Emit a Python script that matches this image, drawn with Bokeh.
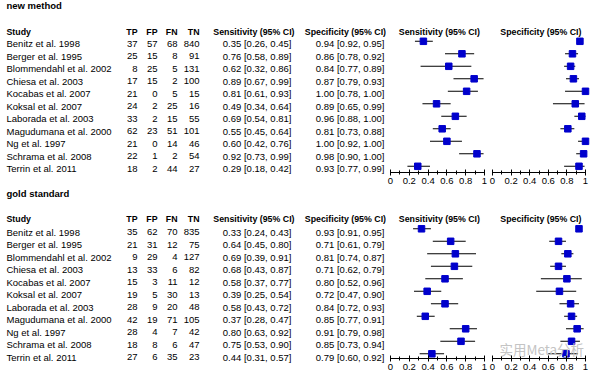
from bokeh.plotting import figure
from bokeh.models import Range1d, LinearAxis, FixedTicker
from bokeh.layouts import row, column
from bokeh.embed import file_html
from bokeh.resources import INLINE
from bokeh.core.properties import value

# ---------------- data ----------------
studies = ["Benitz et al. 1998", "Berger et al. 1995", "Blommendahl et al. 2002",
           "Chiesa et al. 2003", "Kocabas et al. 2007", "Koksal et al. 2007",
           "Laborada et al. 2003", "Magudumana et al. 2000", "Ng et al. 1997",
           "Schrama et al. 2008", "Terrin et al. 2011"]

# new method
nm_tp = [37, 25, 8, 17, 21, 24, 33, 62, 21, 22, 18]
nm_fp = [57, 15, 25, 15, 0, 2, 2, 23, 0, 1, 2]
nm_fn = [68, 8, 5, 2, 5, 25, 15, 51, 14, 2, 44]
nm_tn = [840, 91, 131, 100, 15, 16, 55, 101, 46, 54, 27]
nm_sens = [0.35, 0.76, 0.62, 0.89, 0.81, 0.49, 0.69, 0.55, 0.60, 0.92, 0.29]
nm_sens_lo = [0.26, 0.58, 0.32, 0.67, 0.61, 0.34, 0.54, 0.45, 0.42, 0.73, 0.18]
nm_sens_hi = [0.45, 0.89, 0.86, 0.99, 0.93, 0.64, 0.81, 0.64, 0.76, 0.99, 0.42]
nm_spec = [0.94, 0.86, 0.84, 0.87, 1.00, 0.89, 0.96, 0.81, 1.00, 0.98, 0.93]
nm_spec_lo = [0.92, 0.78, 0.77, 0.79, 0.78, 0.65, 0.88, 0.73, 0.92, 0.90, 0.77]
nm_spec_hi = [0.95, 0.92, 0.89, 0.93, 1.00, 0.99, 1.00, 0.88, 1.00, 1.00, 0.99]

# gold standard
gs_tp = [35, 21, 9, 13, 15, 19, 28, 42, 28, 18, 27]
gs_fp = [62, 31, 29, 33, 3, 5, 9, 19, 4, 8, 6]
gs_fn = [70, 12, 4, 6, 11, 30, 20, 71, 7, 6, 35]
gs_tn = [835, 75, 127, 82, 12, 13, 48, 105, 42, 47, 23]
gs_sens = [0.33, 0.64, 0.69, 0.68, 0.58, 0.39, 0.58, 0.37, 0.80, 0.75, 0.44]
gs_sens_lo = [0.24, 0.45, 0.39, 0.43, 0.37, 0.25, 0.43, 0.28, 0.63, 0.53, 0.31]
gs_sens_hi = [0.43, 0.80, 0.91, 0.87, 0.77, 0.54, 0.72, 0.47, 0.92, 0.90, 0.57]
gs_spec = [0.93, 0.71, 0.81, 0.71, 0.80, 0.72, 0.84, 0.85, 0.91, 0.85, 0.79]
gs_spec_lo = [0.91, 0.61, 0.74, 0.62, 0.52, 0.47, 0.72, 0.77, 0.79, 0.73, 0.60]
gs_spec_hi = [0.95, 0.79, 0.87, 0.79, 0.96, 0.90, 0.93, 0.91, 0.98, 0.94, 0.92]

panel_titles = ["new method", "gold standard"]
col_headers = ["Study", "TP", "FP", "FN", "TN", "Sensitivity (95% CI)", "Specificity (95% CI)"]
forest_headers = ["Sensitivity (95% CI)", "Specificity (95% CI)"]
tick_vals = [0, 0.2, 0.4, 0.6, 0.8, 1]
tick_labels = ["0", "0.2", "0.4", "0.6", "0.8", "1"]
minor_vals = [0.1, 0.3, 0.5, 0.7, 0.9]
watermark = "实用Meta分析"

# ---------------- style / layout ----------------
FONT = "Liberation Sans"
FS = "9.5px"
FS_HEAD = "8.8px"
BLUE = "#0000CC"
STEP = 12.5

TOTAL_W, TOTAL_H = 600, 383
TEXT_W = 386
SENS_W = 103
SPEC_W = TOTAL_W - TEXT_W - SENS_W
TOP_H = 190
BOT_H = TOTAL_H - TOP_H
TOP_BORDER, BOT_BORDER = 18, 25

# anchors for the table (text figure uses page pixel coordinates)
X_STUDY = 6
X_TP, X_FP, X_FN, X_TN = 137, 157, 177, 199
X_SENS, X_SPEC = 291, 384
X_SENS_H, X_SPEC_H = 294, 385.5

panels = [
    dict(title_y=5, head_y=31.7, text_y0=43.2, sq_y0=40.8,
         tp=nm_tp, fp=nm_fp, fn=nm_fn, tn=nm_tn,
         sens=nm_sens, sens_lo=nm_sens_lo, sens_hi=nm_sens_hi,
         spec=nm_spec, spec_lo=nm_spec_lo, spec_hi=nm_spec_hi,
         fig_top=0, fig_h=TOP_H, border=TOP_BORDER),
    dict(title_y=192.5, head_y=218, text_y0=231.7, sq_y0=228.3,
         tp=gs_tp, fp=gs_fp, fn=gs_fn, tn=gs_tn,
         sens=gs_sens, sens_lo=gs_sens_lo, sens_hi=gs_sens_hi,
         spec=gs_spec, spec_lo=gs_spec_lo, spec_hi=gs_spec_hi,
         fig_top=TOP_H, fig_h=BOT_H, border=BOT_BORDER),
]


def bare(w, h, xr, yr, bottom=0):
    p = figure(width=w, height=h, x_range=xr, y_range=yr,
               output_backend="svg", toolbar_location=None,
               x_axis_type=None, y_axis_type=None,
               min_border_left=0, min_border_right=0,
               min_border_top=0, min_border_bottom=bottom)
    p.outline_line_color = None
    p.background_fill_color = "white"
    p.border_fill_color = "white"
    return p


def txt(p, x, y, t, align="left", bold=False, size=FS, font=FONT, color="black"):
    p.text(x=x, y=y, text=t, text_font=value(font), text_font_size=size,
           text_align=align, text_baseline="middle", text_color=color,
           text_font_style="bold" if bold else "normal")


# ---------------- table figure ----------------
tf = bare(TEXT_W, TOTAL_H, Range1d(0, TEXT_W), Range1d(TOTAL_H, 0))

for k, pn in enumerate(panels):
    n = len(studies)
    ty = [pn["text_y0"] + STEP * i for i in range(n)]
    txt(tf, [X_STUDY], [pn["title_y"]], [panel_titles[k]], bold=True)
    hy = pn["head_y"]
    txt(tf, [X_STUDY], [hy], [col_headers[0]], bold=True, size=FS_HEAD)
    txt(tf, [X_TP, X_FP, X_FN, X_TN, X_SENS_H, X_SPEC_H], [hy] * 6,
        col_headers[1:], align="right", bold=True, size=FS_HEAD)
    txt(tf, [X_STUDY] * n, ty, studies)
    for xs, vals in zip([X_TP, X_FP, X_FN, X_TN], [pn["tp"], pn["fp"], pn["fn"], pn["tn"]]):
        txt(tf, [xs] * n, ty, [str(v) for v in vals], align="right")
    sens_s = [f"{a:.2f} [{b:.2f}, {c:.2f}]" for a, b, c in zip(pn["sens"], pn["sens_lo"], pn["sens_hi"])]
    spec_s = [f"{a:.2f} [{b:.2f}, {c:.2f}]" for a, b, c in zip(pn["spec"], pn["spec_lo"], pn["spec_hi"])]
    txt(tf, [X_SENS] * n, ty, sens_s, align="right")
    txt(tf, [X_SPEC] * n, ty, spec_s, align="right")

# ---------------- forest figures ----------------
# pixel position of value 0 and value 1 on each forest axis (page coords)
SENS_X0, SENS_X1 = 390, 484
SPEC_X0, SPEC_X1 = 492, 585
SENS_FIG_L = TEXT_W
SPEC_FIG_L = TEXT_W + SENS_W


def xr_for(fig_left, w, v0px, v1px):
    scale = v1px - v0px
    return Range1d((fig_left - v0px) / scale, (fig_left + w - v0px) / scale)


def forest(pn, which, header, fig_left, w, v0px, v1px, wm=False):
    top = pn["fig_top"]
    h = pn["fig_h"]
    frame_bottom = top + h - pn["border"]
    p = bare(w, h, xr_for(fig_left, w, v0px, v1px), Range1d(frame_bottom, top), bottom=pn["border"])
    n = len(studies)
    sy = [pn["sq_y0"] + STEP * i for i in range(n)]
    est, lo, hi = pn[which], pn[which + "_lo"], pn[which + "_hi"]
    p.segment(x0=lo, y0=sy, x1=hi, y1=sy, line_color="black", line_width=1.1)
    p.scatter(x=est, y=sy, marker="square", size=6.5, fill_color=BLUE, line_color=BLUE)
    txt(p, [0.52], [pn["head_y"]], [header], align="center", bold=True, size=FS_HEAD)
    if wm:
        txt(p, [0.985], [348], [watermark], align="right", size="13.5px",
            font="Noto Sans CJK SC", color="#c4c4c4")
    ax = LinearAxis(bounds=(0, 1), ticker=FixedTicker(ticks=tick_vals, minor_ticks=minor_vals),
                    major_label_overrides=dict(zip(tick_vals, tick_labels)))
    ax.major_tick_in = 3
    ax.major_tick_out = 3
    ax.minor_tick_in = 2
    ax.minor_tick_out = 2
    ax.major_label_standoff = 2
    ax.major_label_text_font = FONT
    ax.major_label_text_font_size = FS
    ax.major_label_text_color = "black"
    ax.axis_line_color = "black"
    ax.major_tick_line_color = "black"
    ax.minor_tick_line_color = "black"
    p.add_layout(ax, "below")
    return p


rows = []
for k, pn in enumerate(panels):
    s = forest(pn, "sens", forest_headers[0], SENS_FIG_L, SENS_W, SENS_X0, SENS_X1)
    c = forest(pn, "spec", forest_headers[1], SPEC_FIG_L, SPEC_W, SPEC_X0, SPEC_X1, wm=(k == 1))
    rows.append(row(s, c, spacing=0))

layout = row(tf, column(*rows, spacing=0), spacing=0)

open("out.html", "w").write(file_html(layout, INLINE))
